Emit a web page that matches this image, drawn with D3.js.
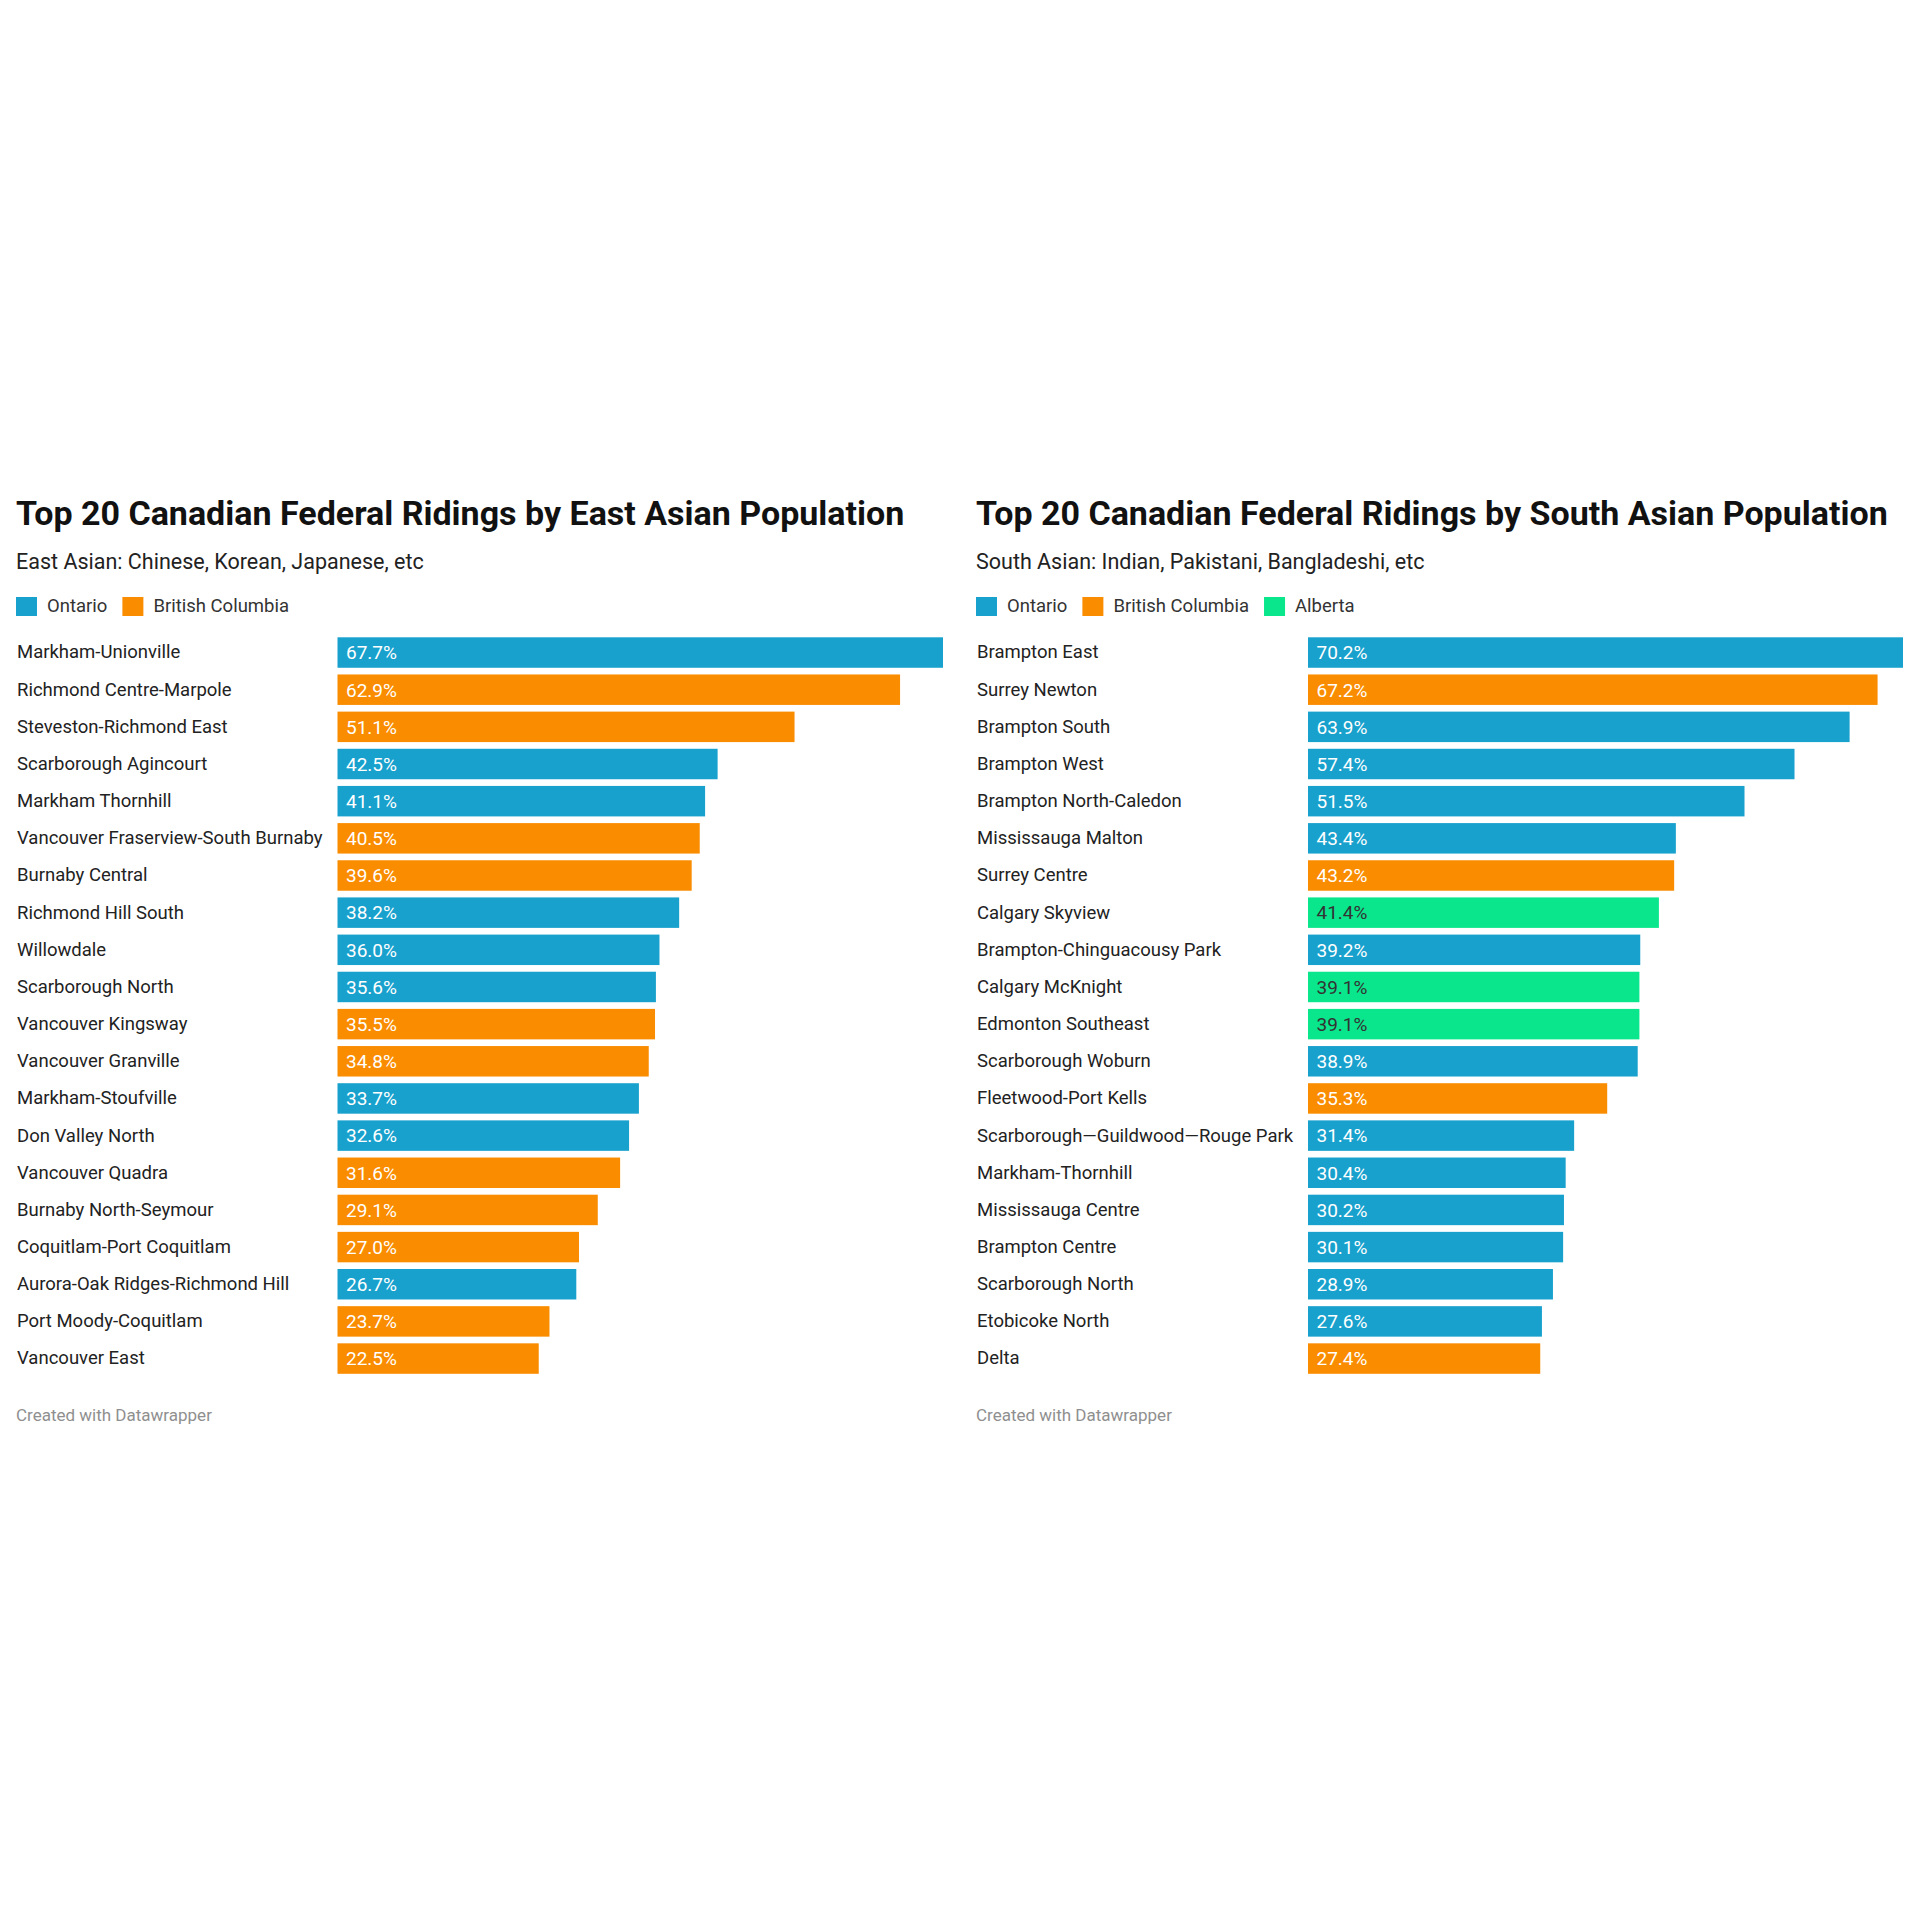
<!DOCTYPE html>
<html>
<head>
    <title>Top 20 Canadian Federal Ridings</title>
    <script src="https://d3js.org/d3.v7.min.js"></script>
    <style>
        body { margin: 0; background: #fff; }
        text { font-family: Roboto, "Noto Sans", sans-serif; }
    </style>
</head>
<body>
    <div id="chart"></div>

    <script>
        // East Asian chart data
        const eastRidings = ["Markham-Unionville", "Richmond Centre-Marpole", "Steveston-Richmond East", "Scarborough Agincourt",
            "Markham Thornhill", "Vancouver Fraserview-South Burnaby", "Burnaby Central", "Richmond Hill South", "Willowdale",
            "Scarborough North", "Vancouver Kingsway", "Vancouver Granville", "Markham-Stoufville", "Don Valley North",
            "Vancouver Quadra", "Burnaby North-Seymour", "Coquitlam-Port Coquitlam", "Aurora-Oak Ridges-Richmond Hill",
            "Port Moody-Coquitlam", "Vancouver East"];
        const eastValues = [67.7, 62.9, 51.1, 42.5, 41.1, 40.5, 39.6, 38.2, 36.0, 35.6, 35.5, 34.8, 33.7, 32.6, 31.6, 29.1, 27.0, 26.7, 23.7, 22.5];
        const eastProvinces = ["ON", "BC", "BC", "ON", "ON", "BC", "BC", "ON", "ON", "ON", "BC", "BC", "ON", "ON", "BC", "BC", "BC", "ON", "BC", "BC"];

        // South Asian chart data
        const southRidings = ["Brampton East", "Surrey Newton", "Brampton South", "Brampton West", "Brampton North-Caledon",
            "Mississauga Malton", "Surrey Centre", "Calgary Skyview", "Brampton-Chinguacousy Park", "Calgary McKnight",
            "Edmonton Southeast", "Scarborough Woburn", "Fleetwood-Port Kells", "Scarborough\u2014Guildwood\u2014Rouge Park",
            "Markham-Thornhill", "Mississauga Centre", "Brampton Centre", "Scarborough North", "Etobicoke North", "Delta"];
        const southValues = [70.2, 67.2, 63.9, 57.4, 51.5, 43.4, 43.2, 41.4, 39.2, 39.1, 39.1, 38.9, 35.3, 31.4, 30.4, 30.2, 30.1, 28.9, 27.6, 27.4];
        const southProvinces = ["ON", "BC", "ON", "ON", "ON", "ON", "BC", "AB", "ON", "AB", "AB", "ON", "BC", "ON", "ON", "ON", "ON", "ON", "ON", "BC"];

        const provinceKeys = ["ON", "BC", "AB"];
        const provinceNames = ["Ontario", "British Columbia", "Alberta"];
        const provinceColors = ["#18a1cd", "#fa8c00", "#0ae68c"];

        const color = d3.scaleOrdinal().domain(provinceKeys).range(provinceColors);
        const labelColor = d3.scaleOrdinal().domain(provinceKeys).range(["#ffffff", "#ffffff", "#333333"]);

        const svg = d3.select("#chart").append("svg")
            .attr("width", 1920)
            .attr("height", 1920);

        function drawChart(opts) {
            const data = opts.ridings.map((r, i) => ({ riding: r, value: opts.values[i], prov: opts.provinces[i] }));
            const g = svg.append("g");
            const left = opts.left;

            g.append("text")
                .attr("x", left)
                .attr("y", 525)
                .attr("font-size", 34)
                .attr("font-weight", 700)
                .attr("fill", "#111")
                .text(opts.title);

            g.append("text")
                .attr("x", left)
                .attr("y", 569)
                .attr("font-size", 21.5)
                .attr("fill", "#222")
                .text(opts.subtitle);

            // legend
            const provs = provinceKeys.filter(k => opts.provinces.includes(k));
            let lx = left;
            provs.forEach(k => {
                g.append("rect")
                    .attr("x", lx)
                    .attr("y", 597)
                    .attr("width", 21)
                    .attr("height", 19)
                    .attr("fill", color(k));
                const t = g.append("text")
                    .attr("x", lx + 31)
                    .attr("y", 611.5)
                    .attr("font-size", 18.5)
                    .attr("fill", "#333")
                    .text(provinceNames[provinceKeys.indexOf(k)]);
                lx += 31 + t.node().getComputedTextLength() + 15;
            });

            const y = d3.scaleBand()
                .domain(data.map(d => d.riding))
                .range([637.3, 1373.8])
                .paddingInner(0.18)
                .paddingOuter(0);

            const x = d3.scaleLinear()
                .domain([0, d3.max(data, d => d.value)])
                .range([opts.barStart, left + 927]);

            g.selectAll(".label")
                .data(data)
                .join("text")
                  .attr("class", "label")
                  .attr("x", left + 1)
                  .attr("y", d => y(d.riding) + y.bandwidth() / 2)
                  .attr("dy", "0.32em")
                  .attr("font-size", 18.5)
                  .attr("fill", "#222")
                  .text(d => d.riding);

            g.selectAll(".bar")
                .data(data)
                .join("rect")
                  .attr("class", "bar")
                  .attr("x", x(0))
                  .attr("y", d => y(d.riding))
                  .attr("width", d => x(d.value) - x(0))
                  .attr("height", y.bandwidth())
                  .attr("fill", d => color(d.prov));

            g.selectAll(".value")
                .data(data)
                .join("text")
                  .attr("class", "value")
                  .attr("x", x(0) + 8.5)
                  .attr("y", d => y(d.riding) + y.bandwidth() / 2)
                  .attr("dy", "0.36em")
                  .attr("font-size", 19)
                  .attr("fill", d => labelColor(d.prov))
                  .text(d => d.value.toFixed(1) + "%");

            g.append("text")
                .attr("x", left)
                .attr("y", 1421)
                .attr("font-size", 17)
                .attr("fill", "#8f8f8f")
                .text("Created with Datawrapper");
        }

        drawChart({
            left: 16,
            barStart: 337.5,
            title: "Top 20 Canadian Federal Ridings by East Asian Population",
            subtitle: "East Asian: Chinese, Korean, Japanese, etc",
            ridings: eastRidings, values: eastValues, provinces: eastProvinces
        });

        drawChart({
            left: 976,
            barStart: 1308,
            title: "Top 20 Canadian Federal Ridings by South Asian Population",
            subtitle: "South Asian: Indian, Pakistani, Bangladeshi, etc",
            ridings: southRidings, values: southValues, provinces: southProvinces
        });
    </script>
</body>
</html>
